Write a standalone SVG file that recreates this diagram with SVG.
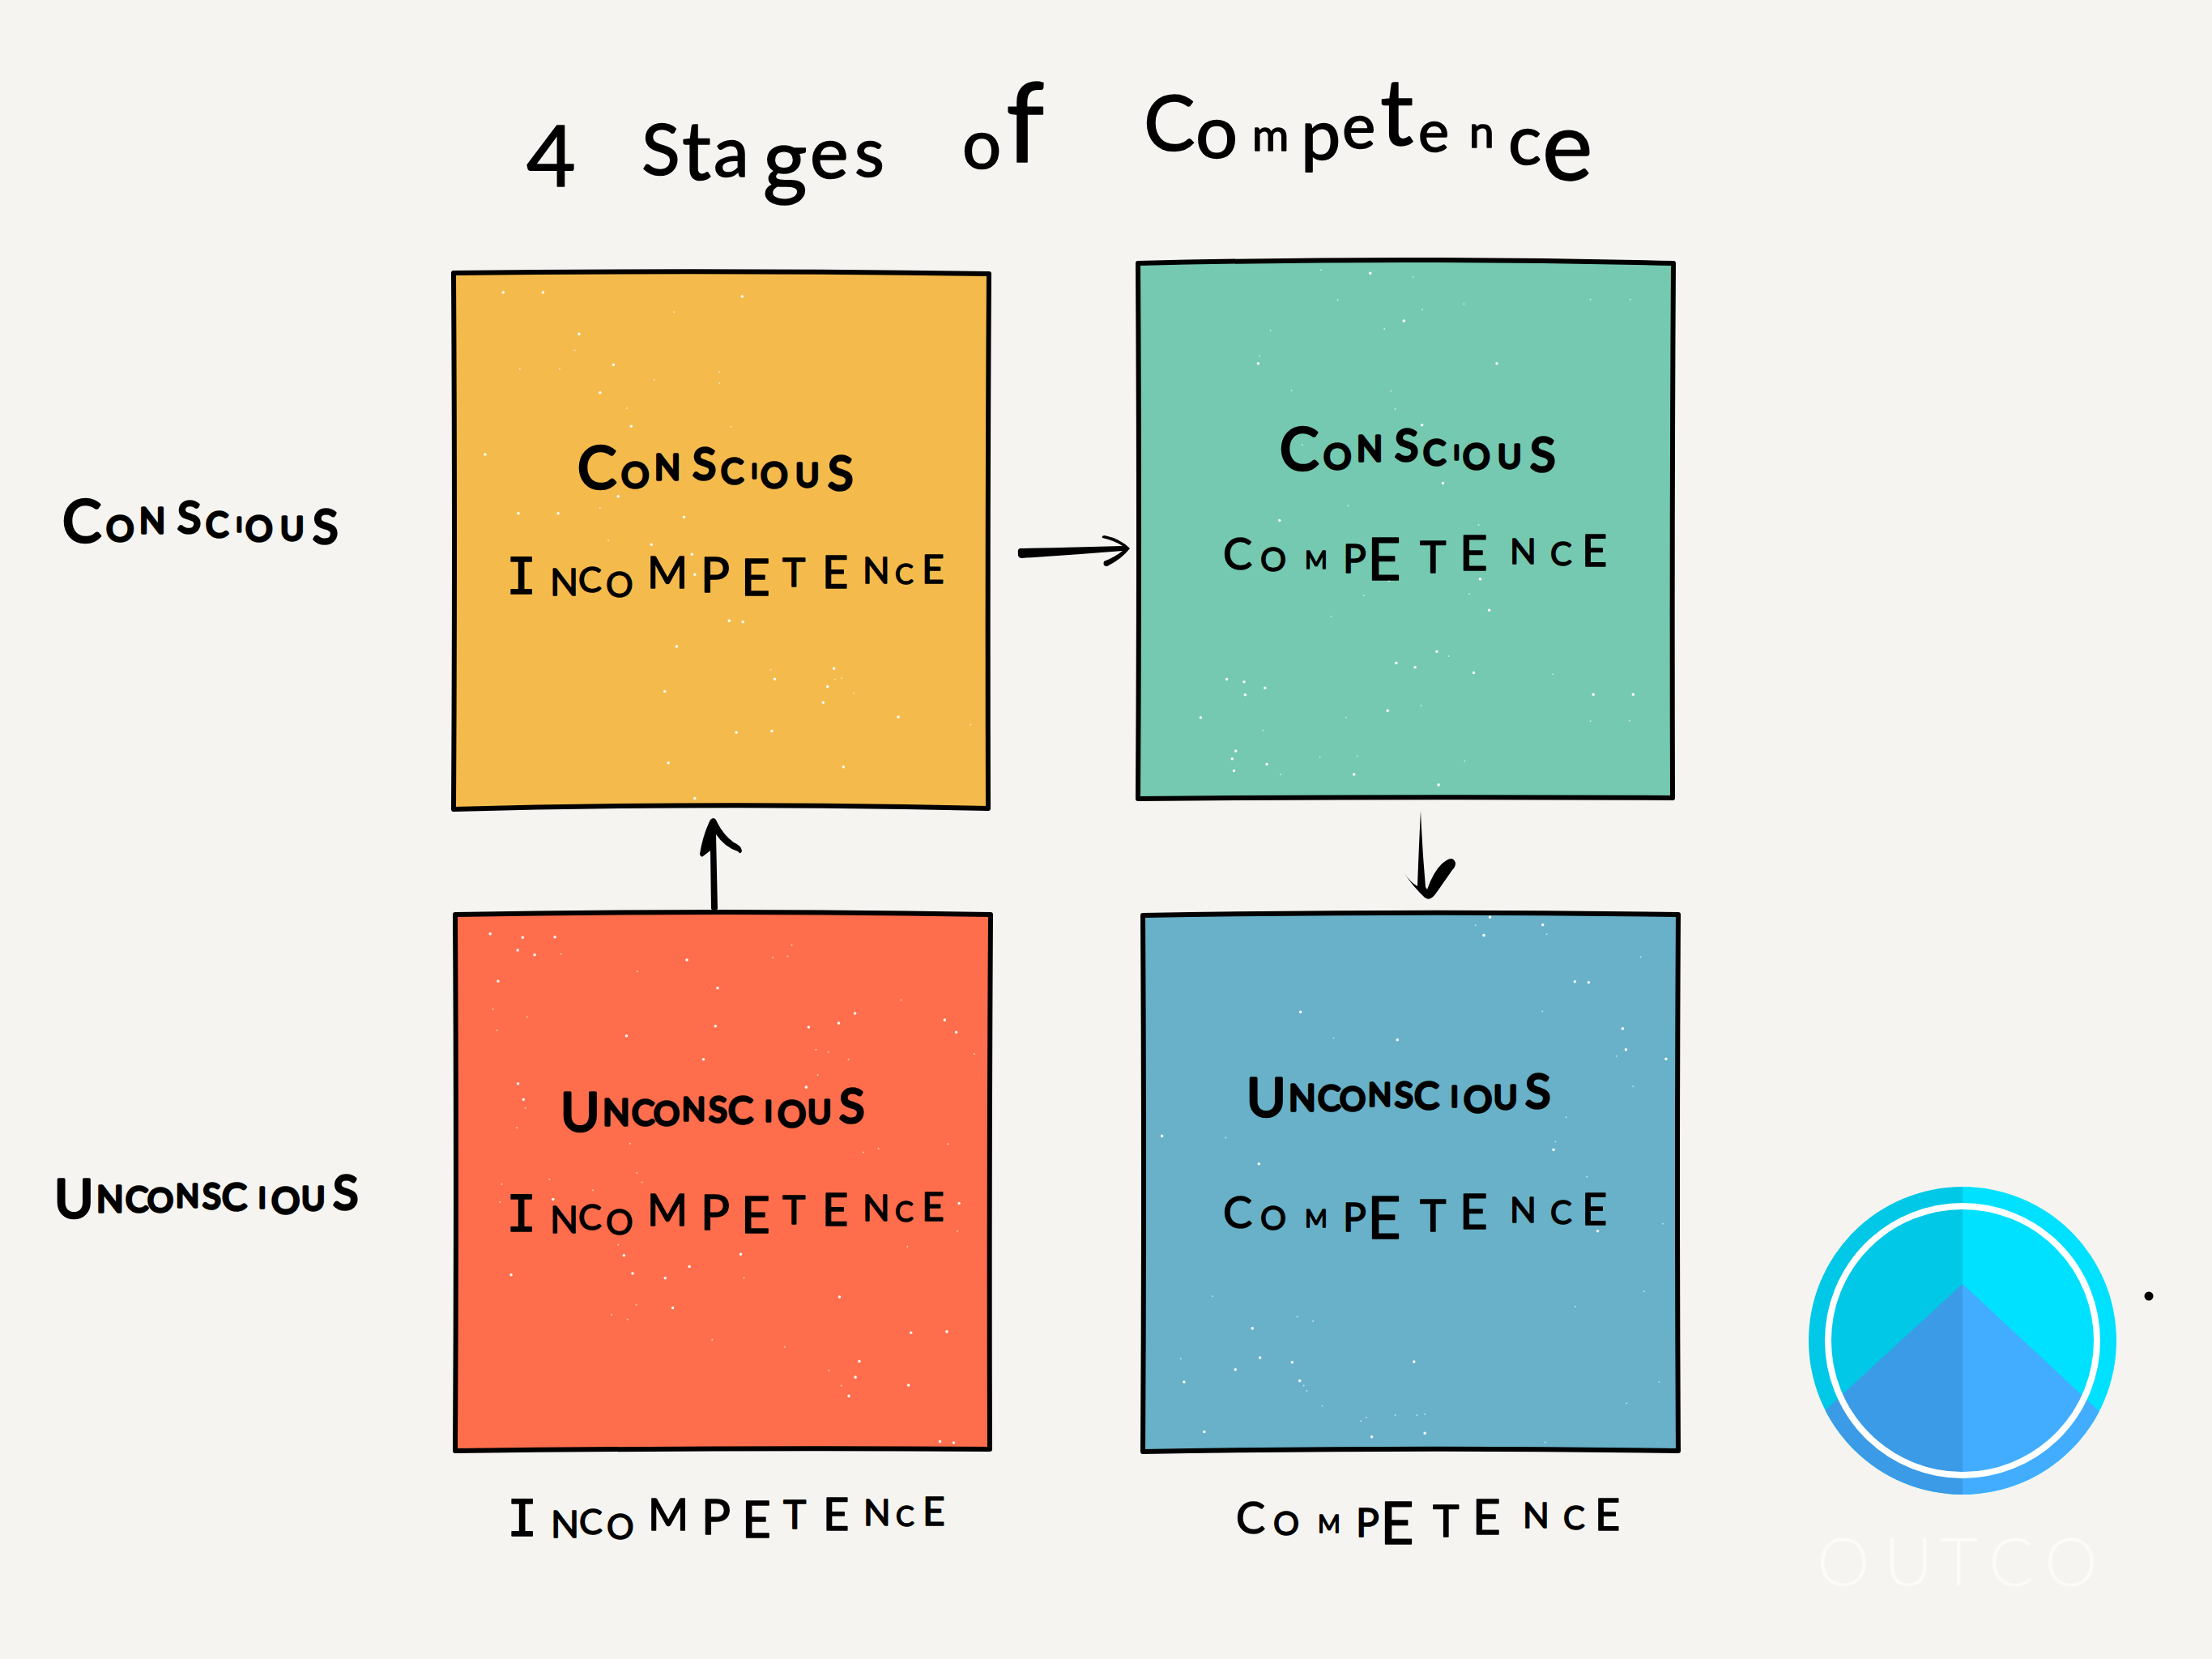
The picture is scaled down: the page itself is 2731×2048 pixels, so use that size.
<svg xmlns="http://www.w3.org/2000/svg" width="2731" height="2048" viewBox="0 0 2731 2048">
<style>
text{font-family:"Lato","Open Sans","Liberation Sans",sans-serif;fill:#000}
.t{stroke:#000;stroke-width:1.5;stroke-linejoin:round}
.c{stroke:#000;stroke-width:3.5;stroke-linejoin:round;paint-order:stroke}
.i{stroke:#000;stroke-width:1.5;stroke-linejoin:round}
.m{font-family:"DejaVu Sans Mono","Liberation Mono",monospace}
.box{stroke:#000;stroke-width:6;stroke-linejoin:round}
.sp{fill:none;stroke:#fff;stroke-linecap:round;stroke-width:8;opacity:.95}
.ss{fill:none;stroke:#fff;stroke-linecap:round;stroke-width:4.5;opacity:.6}
.brand{font-family:"Lato","Liberation Sans",sans-serif;font-weight:300;font-size:83px;fill:#FBFBFA}
</style>
<rect width="2731" height="2048" fill="#F5F4F0"/>
<g id="title">
<text class="t"><tspan x="650" y="230" font-size="105">4</tspan> <tspan x="792" y="216" font-size="88">S</tspan><tspan x="842" y="222" font-size="100">t</tspan><tspan x="881" y="218" font-size="88">a</tspan><tspan x="942" y="234" font-size="105">g</tspan><tspan x="1000" y="220" font-size="90">e</tspan><tspan x="1055" y="218" font-size="85">s</tspan> <tspan x="1188" y="208" font-size="85">o</tspan><tspan x="1242" y="200" font-size="135">f</tspan> <tspan x="1412" y="186" font-size="95">C</tspan><tspan x="1476" y="195" font-size="92">o</tspan><tspan x="1546" y="186" font-size="55">m</tspan><tspan x="1606" y="197" font-size="88">p</tspan><tspan x="1657" y="183" font-size="78">e</tspan><tspan x="1704" y="179" font-size="115">t</tspan><tspan x="1751" y="187" font-size="72">e</tspan><tspan x="1814" y="182" font-size="55">n</tspan><tspan x="1862" y="203" font-size="86">c</tspan><tspan x="1904" y="222" font-size="118">e</tspan></text>
</g>
<g id="row-conscious">
<text class="c" transform="translate(77,669)" x="0 54 95 142 177 215 226 269 309" y="0 -1 -11 -11 -6 -13 -1 -2 2"><tspan font-size="72">C</tspan><tspan font-size="43">O</tspan><tspan font-size="42">N</tspan><tspan font-size="54">S</tspan><tspan font-size="42">C</tspan><tspan font-size="24">I</tspan><tspan font-size="42">O</tspan><tspan font-size="40">U</tspan><tspan font-size="58">S</tspan></text>
</g>
<g id="row-unconscious">
<text class="c" transform="translate(69,1503)" x="-2 50 86 113 148 181 205 250 266 303 342" y="0 -7 -7 -7 -13 -11 -9 -12 -5 -9 -10"><tspan font-size="66">U</tspan><tspan font-size="44">N</tspan><tspan font-size="42">C</tspan><tspan font-size="40">O</tspan><tspan font-size="38">N</tspan><tspan font-size="42">S</tspan><tspan font-size="46">C</tspan><tspan font-size="34">I</tspan><tspan font-size="44">O</tspan><tspan font-size="40">U</tspan><tspan font-size="58">S</tspan></text>
</g>
<g id="node-conscious-incompetence">
<path class="box" fill="#F4BB4C" d="M560 337Q890 333 1221 338Q1219 668 1220 998Q890 990 560 999Q562 668 560 337Z"/>
<g transform="translate(540 320) scale(.4464)">
<path class="sp" d="M182 92h0M292 92h0M843 103h0M392 207h0M487 292h0M450 369h0M536 462h0M132 540h0M500 656h0M224 703h0M334 703h0M682 713h0M592 789h0M704 816h0M712 872h0M807 1000h0M845 1003h0M662 1071h0M1097 1132h0M933 1161h0M1079 1182h0M629 1195h0M1067 1226h0M1275 1266h0M925 1305h0M827 1309h0M1123 1404h0M639 1393h0M712 1491h0"/>
<path class="ss" d="M654 146h0M380 252h0M228 303h0M338 303h0M600 333h0M780 312h0M780 343h0M524 412h0M812 463h0M450 687h0M473 778h0M922 1135h0M1100 1162h0M1118 1158h0M1152 1200h0M1475 1287h0"/>
</g>
<text class="c" transform="translate(713,603)" x="0 54 95 142 177 215 226 269 309" y="0 -1 -11 -11 -6 -13 -1 -2 2"><tspan font-size="72">C</tspan><tspan font-size="43">O</tspan><tspan font-size="42">N</tspan><tspan font-size="54">S</tspan><tspan font-size="42">C</tspan><tspan font-size="24">I</tspan><tspan font-size="42">O</tspan><tspan font-size="40">U</tspan><tspan font-size="58">S</tspan></text>
<text class="i" transform="translate(625,733)" x="0 54 89 123 174 240 290 341 390 440 480 513" y="0 2 -2 4 -7 -2 2 -9 -7 -13 -12 -13"><tspan class="m" font-size="62">I</tspan><tspan font-size="46">N</tspan><tspan font-size="43">C</tspan><tspan font-size="42">O</tspan><tspan font-size="54">M</tspan><tspan font-size="60">P</tspan><tspan font-size="62">E</tspan><tspan font-size="48">T</tspan><tspan font-size="56">E</tspan><tspan font-size="44">N</tspan><tspan font-size="34">C</tspan><tspan font-size="48">E</tspan></text>
</g>
<g id="node-conscious-competence">
<path class="box" fill="#75C9B0" d="M1405 325Q1735 317 2066 325Q2064 655 2065 985Q1735 983 1405 986Q1407 655 1405 325Z"/>
<g transform="translate(1390 310) scale(.4464)">
<path class="sp" d="M676 61h0M769 193h0M366 311h0M1026 311h0M819 481h0M877 642h0M425 745h0M728 910h0M980 907h0M1005 993h0M860 1107h0M748 1139h0M800 1151h0M962 1166h0M279 1184h0M327 1191h0M330 1227h0M385 1208h0M1293 1226h0M1403 1226h0M724 1271h0M207 1290h0M304 1382h0M294 1404h0M390 1419h0M299 1437h0M631 1447h0M865 1476h0"/>
<path class="ss" d="M795 71h0M540 52h0M586 135h0M935 146h0M1285 134h0M1395 134h0M820 162h0M715 215h0M400 220h0M370 290h0M458 386h0M733 387h0M745 437h0M488 536h0M615 704h0M976 757h0M658 952h0M950 948h0M568 1011h0M893 1120h0M1181 1170h0M817 1257h0M609 1290h0M1285 1300h0M1393 1299h0M379 1325h0M428 1447h0M537 1399h0M640 1397h0M937 1410h0"/>
</g>
<text class="c" transform="translate(1580,580)" x="0 54 95 142 177 215 226 269 309" y="0 -1 -11 -11 -6 -13 -1 -2 2"><tspan font-size="72">C</tspan><tspan font-size="43">O</tspan><tspan font-size="42">N</tspan><tspan font-size="54">S</tspan><tspan font-size="42">C</tspan><tspan font-size="24">I</tspan><tspan font-size="42">O</tspan><tspan font-size="40">U</tspan><tspan font-size="58">S</tspan></text>
<text class="i" transform="translate(1510,703)" x="0 46 101 148 178 243 292 354 404 443" y="0 2 -1 4 13 4 1 -7 -5 -4"><tspan font-size="54">C</tspan><tspan font-size="40">O</tspan><tspan font-size="30">M</tspan><tspan font-size="48">P</tspan><tspan font-size="72">E</tspan><tspan font-size="55">T</tspan><tspan font-size="60">E</tspan><tspan font-size="43">N</tspan><tspan font-size="40">C</tspan><tspan font-size="54">E</tspan></text>
</g>
<g id="node-unconscious-incompetence">
<path class="box" fill="#FF6E4C" d="M562 1129Q892 1123 1223 1129Q1221 1459 1222 1789Q892 1787 562 1791Q564 1459 562 1129Z"/>
<g transform="translate(540 1110) scale(.4464)">
<path class="sp" d="M146 96h0M236 106h0M325 105h0M222 141h0M269 154h0M690 168h0M168 227h0M775 246h0M1155 316h0M1403 334h0M1110 343h0M769 351h0M1027 354h0M1435 368h0M523 378h0M736 443h0M223 510h0M1020 520h0M238 554h0M839 982h0M204 1039h0M540 1035h0M697 1016h0M630 1048h0M1112 1100h0M651 1130h0M1310 1199h0M1409 1196h0M1167 1278h0M1156 1322h0M1303 1344h0M1138 1374h0M1390 1500h0M1428 1503h0M1443 841h0M320 830h0M516 985h0"/>
<path class="ss" d="M342 152h0M980 127h0M928 162h0M969 158h0M553 200h0M1283 279h0M154 304h0M248 326h0M165 363h0M1047 416h0M1081 423h0M1137 443h0M1052 486h0M1485 428h0M243 578h0M220 632h0M533 676h0M1412 677h0M1220 690h0M1178 700h0M552 757h0M566 783h0M310 775h0M178 788h0M430 805h0M173 838h0M1385 890h0M1438 918h0M500 956h0M1300 961h0M848 1047h0M550 1122h0M482 1149h0M526 1162h0M760 1218h0M961 1238h0M1083 1303h0M1117 1345h0"/>
</g>
<text class="c" transform="translate(694,1396)" x="-2 50 86 113 148 181 205 250 266 303 342" y="0 -7 -7 -7 -13 -11 -9 -12 -5 -9 -10"><tspan font-size="66">U</tspan><tspan font-size="44">N</tspan><tspan font-size="42">C</tspan><tspan font-size="40">O</tspan><tspan font-size="38">N</tspan><tspan font-size="42">S</tspan><tspan font-size="46">C</tspan><tspan font-size="34">I</tspan><tspan font-size="44">O</tspan><tspan font-size="40">U</tspan><tspan font-size="58">S</tspan></text>
<text class="i" transform="translate(625,1520)" x="0 54 89 123 174 240 290 341 390 440 480 513" y="0 2 -2 4 -7 -2 2 -9 -7 -13 -12 -13"><tspan class="m" font-size="62">I</tspan><tspan font-size="46">N</tspan><tspan font-size="43">C</tspan><tspan font-size="42">O</tspan><tspan font-size="54">M</tspan><tspan font-size="60">P</tspan><tspan font-size="62">E</tspan><tspan font-size="48">T</tspan><tspan font-size="56">E</tspan><tspan font-size="44">N</tspan><tspan font-size="34">C</tspan><tspan font-size="48">E</tspan></text>
</g>
<g id="node-unconscious-competence">
<path class="box" fill="#68B1C8" d="M1411 1130Q1741 1124 2072 1129Q2070 1460 2072 1791Q1741 1786 1411 1792Q1413 1460 1411 1130Z"/>
<g transform="translate(1390 1110) scale(.4464)">
<path class="sp" d="M1007 50h0M1153 71h0M990 100h0M1242 228h0M1280 230h0M483 312h0M1374 358h0M751 389h0M1383 416h0M1494 442h0M100 655h0M1183 693h0M368 732h0M1305 918h0M350 1187h0M371 1268h0M460 1281h0M797 1279h0M303 1301h0M161 1335h0M481 1332h0M217 1473h0M680 1487h0M827 1477h0"/>
<path class="ss" d="M967 72h0M1164 97h0M1424 160h0M1152 310h0M575 384h0M1357 434h0M1403 518h0M1218 603h0M276 660h0M1188 671h0M1275 768h0M1485 898h0M240 1098h0M1433 1085h0M1243 1127h0M474 1155h0M518 1167h0M152 1271h0M492 1345h0M500 1360h0M1475 1335h0M1385 1394h0M543 1401h0M650 1443h0M665 1433h0M745 1427h0M805 1427h0M827 1424h0M1160 1502h0"/>
</g>
<text class="c" transform="translate(1541,1378)" x="-2 50 86 113 148 181 205 250 266 303 342" y="0 -7 -7 -7 -13 -11 -9 -12 -5 -9 -10"><tspan font-size="66">U</tspan><tspan font-size="44">N</tspan><tspan font-size="42">C</tspan><tspan font-size="40">O</tspan><tspan font-size="38">N</tspan><tspan font-size="42">S</tspan><tspan font-size="46">C</tspan><tspan font-size="34">I</tspan><tspan font-size="44">O</tspan><tspan font-size="40">U</tspan><tspan font-size="58">S</tspan></text>
<text class="i" transform="translate(1510,1516)" x="0 46 101 148 178 243 292 354 404 443" y="0 2 -1 4 13 4 1 -7 -5 -4"><tspan font-size="54">C</tspan><tspan font-size="40">O</tspan><tspan font-size="30">M</tspan><tspan font-size="48">P</tspan><tspan font-size="72">E</tspan><tspan font-size="55">T</tspan><tspan font-size="60">E</tspan><tspan font-size="43">N</tspan><tspan font-size="40">C</tspan><tspan font-size="54">E</tspan></text>
</g>
<g id="col-incompetence">
<text class="i" transform="translate(626,1896)" x="0 54 89 123 174 240 290 341 390 440 480 513" y="0 2 -2 4 -7 -2 2 -9 -7 -13 -12 -13"><tspan class="m" font-size="62">I</tspan><tspan font-size="46">N</tspan><tspan font-size="43">C</tspan><tspan font-size="42">O</tspan><tspan font-size="54">M</tspan><tspan font-size="60">P</tspan><tspan font-size="62">E</tspan><tspan font-size="48">T</tspan><tspan font-size="56">E</tspan><tspan font-size="44">N</tspan><tspan font-size="34">C</tspan><tspan font-size="48">E</tspan></text>
</g>
<g id="col-competence">
<text class="i" transform="translate(1526,1893)" x="0 46 101 148 178 243 292 354 404 443" y="0 2 -1 4 13 4 1 -7 -5 -4"><tspan font-size="54">C</tspan><tspan font-size="40">O</tspan><tspan font-size="30">M</tspan><tspan font-size="48">P</tspan><tspan font-size="72">E</tspan><tspan font-size="55">T</tspan><tspan font-size="60">E</tspan><tspan font-size="43">N</tspan><tspan font-size="40">C</tspan><tspan font-size="54">E</tspan></text>
</g>
<g id="connectors" fill="#000">
<path id="arrow-right" d="M1259 677Q1325 676 1386 674Q1375 667 1361 664Q1360 661 1364 661Q1383 665 1395 677Q1385 690 1367 699Q1361 699 1363 693Q1376 688 1386 680Q1325 685 1262 689Q1256 689 1257 683Q1256 678 1259 677Z"/>
<path id="arrow-up" d="M878 1122L877 1050Q872 1054 868 1057Q865 1059 864 1054Q868 1030 877 1012Q881 1008 884 1012Q892 1030 906 1040Q915 1044 916 1050Q915 1056 911 1051Q895 1046 884 1030L886 1122Q882 1126 878 1122Z"/>
<path id="arrow-down" d="M1754 1001Q1756 1050 1760 1095L1762 1098Q1772 1070 1786 1062Q1794 1057 1797 1065Q1797 1071 1793 1074Q1782 1090 1772 1104Q1765 1113 1759 1108Q1745 1095 1733 1077Q1742 1090 1750 1094Q1752 1040 1754 1001Z"/>
</g>
<g id="logo">
<clipPath id="logo-clip"><circle cx="2423" cy="1655" r="190"/></clipPath>
<g clip-path="url(#logo-clip)">
<rect x="2233" y="1465" width="190" height="380" fill="#00C8E6"/>
<rect x="2423" y="1465" width="190" height="380" fill="#00E1FF"/>
<path d="M2423 1585L2200 1790V1850H2423Z" fill="#3B9BE6"/>
<path d="M2423 1585L2640 1787V1850H2423Z" fill="#42ADFF"/>
</g>
<circle cx="2423" cy="1655" r="166" fill="none" stroke="#fff" stroke-width="8"/>
<text class="brand" x="2243 2326 2394 2455 2524" y="1958">OUTCO</text>
</g>
<circle id="dot" cx="2653" cy="1600" r="5.5" fill="#000"/>
</svg>
